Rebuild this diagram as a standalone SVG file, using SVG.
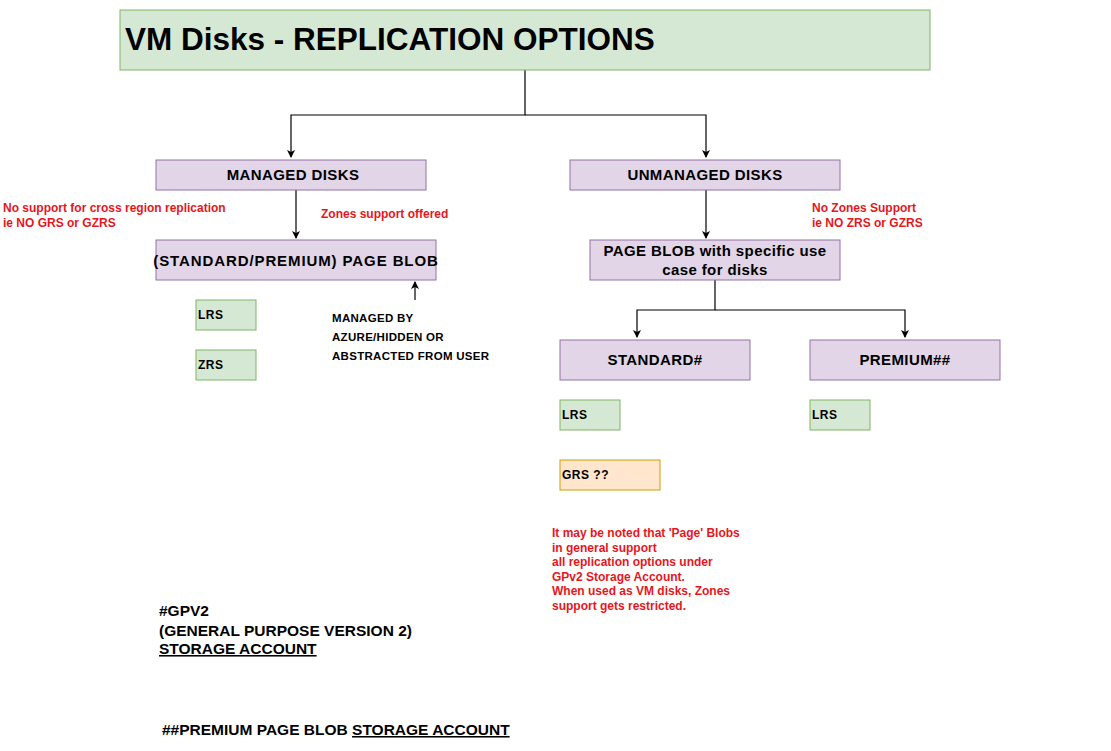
<svg xmlns="http://www.w3.org/2000/svg" width="1111" height="751" viewBox="0 0 1111 751">
<defs>
<marker id="ah" markerWidth="8" markerHeight="8" refX="7" refY="4" orient="auto" markerUnits="userSpaceOnUse"><path d="M0,0 L8,4 L0,8 L2,4 z" fill="#000"/></marker>
<style>
text{font-family:"Liberation Sans",Arial,sans-serif;font-weight:bold}
.p{fill:#e1d5e7;stroke:#9673a6}
.g{fill:#d5e8d4;stroke:#82b366}
.o{fill:#ffe6cc;stroke:#d79b00}
.t{font-size:15px;text-anchor:middle;letter-spacing:0.4px}
.s{font-size:12px;letter-spacing:0.5px}
.r{fill:#e6161d;font-size:12px}
.c{fill:none;stroke:#000;stroke-width:1.2}
</style>
</defs>
<rect width="1111" height="751" fill="#fff"/>
<g id="connectors">
<path class="c" d="M525,70 V115 H291 V157" marker-end="url(#ah)"/>
<path class="c" d="M525,115 H706 V157" marker-end="url(#ah)"/>
<path class="c" d="M296,190 V238" marker-end="url(#ah)"/>
<path class="c" d="M706,190 V238" marker-end="url(#ah)"/>
<path class="c" d="M715,280 V310 H637 V337" marker-end="url(#ah)"/>
<path class="c" d="M715,310 H905 V337" marker-end="url(#ah)"/>
<path class="c" d="M415,300 V282" marker-end="url(#ah)"/>
</g>
<g id="title"><rect x="120" y="10" width="810" height="60" fill="#d5e8d4" stroke="#82b366"/><text x="125" y="50" font-size="31.5">VM Disks - REPLICATION OPTIONS</text></g>
<g id="managed"><rect class="p" x="156" y="160" width="270" height="30"/><text class="t" x="293" y="180">MANAGED DISKS</text></g>
<g id="unmanaged"><rect class="p" x="570" y="160" width="270" height="30"/><text class="t" x="705" y="180">UNMANAGED DISKS</text></g>
<g id="pageblob1"><rect class="p" x="156" y="240" width="280" height="40"/><text class="t" x="296" y="266" style="letter-spacing:0.9px">(STANDARD/PREMIUM) PAGE BLOB</text></g>
<g id="pageblob2"><rect class="p" x="590" y="240" width="250" height="40"/><text class="t" x="715" y="256">PAGE BLOB with specific use</text><text class="t" x="715" y="275">case for disks</text></g>
<g id="standard"><rect class="p" x="560" y="340" width="190" height="40"/><text class="t" x="655" y="365">STANDARD#</text></g>
<g id="premium"><rect class="p" x="810" y="340" width="190" height="40"/><text class="t" x="905" y="365">PREMIUM##</text></g>
<g id="lrs1"><rect class="g" x="196" y="300" width="60" height="30"/><text class="s" x="198" y="319">LRS</text></g>
<g id="zrs1"><rect class="g" x="196" y="350" width="60" height="30"/><text class="s" x="198" y="369">ZRS</text></g>
<g id="lrs2"><rect class="g" x="560" y="400" width="60" height="30"/><text class="s" x="562" y="419">LRS</text></g>
<g id="grs"><rect class="o" x="560" y="460" width="100" height="30"/><text class="s" x="562" y="479">GRS ??</text></g>
<g id="lrs3"><rect class="g" x="810" y="400" width="60" height="30"/><text class="s" x="812" y="419">LRS</text></g>
<g id="notes">
<text class="r" x="3" y="212">No support for cross region replication</text>
<text class="r" x="3" y="227">ie NO GRS or GZRS</text>
<text class="r" x="321" y="218">Zones support offered</text>
<text class="r" x="812" y="212">No Zones Support</text>
<text class="r" x="812" y="227">ie NO ZRS or GZRS</text>
<text font-size="11.5" x="332" y="322" letter-spacing="0.3">MANAGED BY</text>
<text font-size="11.5" x="332" y="341" letter-spacing="0.3">AZURE/HIDDEN OR</text>
<text font-size="11.5" x="332" y="360" letter-spacing="0.3">ABSTRACTED FROM USER</text>
<text class="r" x="552" y="537">It may be noted that 'Page' Blobs</text>
<text class="r" x="552" y="552">in general support</text>
<text class="r" x="552" y="566">all replication options under</text>
<text class="r" x="552" y="581">GPv2 Storage Account.</text>
<text class="r" x="552" y="595">When used as VM disks, Zones</text>
<text class="r" x="552" y="610">support gets restricted.</text>
<text font-size="15.5" x="159" y="616">#GPV2</text>
<text font-size="15.5" x="159" y="636">(GENERAL PURPOSE VERSION 2)</text>
<text font-size="15.5" x="159" y="654" text-decoration="underline">STORAGE ACCOUNT</text>
<text font-size="15.5" x="162" y="735">##PREMIUM PAGE BLOB <tspan text-decoration="underline">STORAGE ACCOUNT</tspan></text>
</g>
</svg>
